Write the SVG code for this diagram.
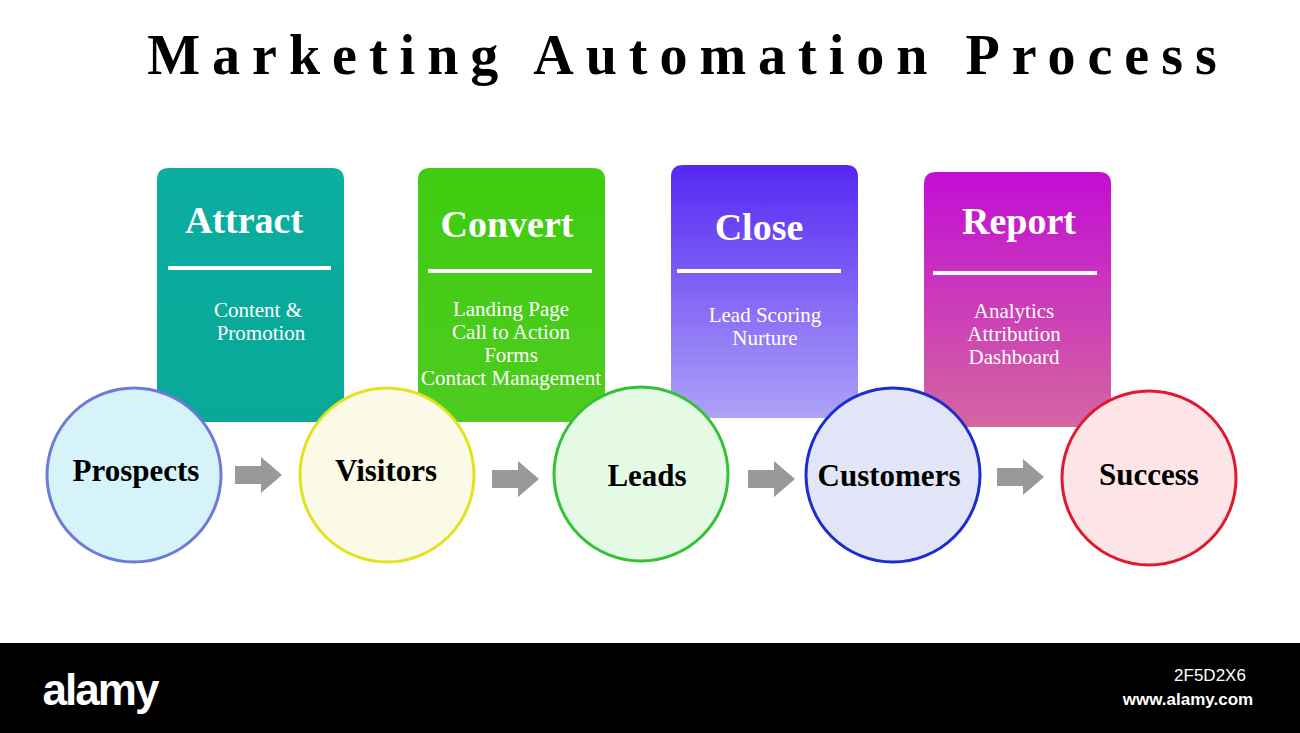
<svg xmlns="http://www.w3.org/2000/svg" width="1300" height="733" viewBox="0 0 1300 733">
<defs>
<linearGradient id="gT" x1="0" y1="0" x2="0" y2="1"><stop offset="0" stop-color="#0aaea0"/><stop offset="1" stop-color="#0aa898"/></linearGradient>
<linearGradient id="gG" x1="0" y1="0" x2="0" y2="1"><stop offset="0" stop-color="#3fcc10"/><stop offset="1" stop-color="#4ecc20"/></linearGradient>
<linearGradient id="gB" x1="0" y1="0" x2="0" y2="1"><stop offset="0" stop-color="#5528f2"/><stop offset="1" stop-color="#aea2f8"/></linearGradient>
<linearGradient id="gR" x1="0" y1="0" x2="0" y2="1"><stop offset="0" stop-color="#c20ed4"/><stop offset="1" stop-color="#d466a0"/></linearGradient>
<path id="arr" d="M0,-9 H26 V-18 L47,0 L26,18 V9 H0 Z" fill="#999"/>
</defs>
<style>
.h{font-family:"Liberation Serif",serif;font-weight:bold;font-size:38px;fill:#fff;text-anchor:middle}
.b{font-family:"Liberation Serif",serif;font-size:21px;fill:#fff;text-anchor:middle}
.c{font-family:"Liberation Serif",serif;font-weight:bold;font-size:31px;fill:#000;text-anchor:middle}
.ln{stroke:#fff;stroke-width:4}
circle{stroke-width:3}
</style>
<rect width="1300" height="733" fill="#fff"/>
<text x="688" y="74" font-family="Liberation Serif,serif" font-weight="bold" font-size="56" letter-spacing="12" text-anchor="middle">Marketing Automation Process</text>
<g id="attract"><path d="M157,422 V180 Q157,168 169,168 H332 Q344,168 344,180 V422 Z" fill="url(#gT)"/><text class="h" x="244" y="233">Attract</text><line class="ln" x1="168" y1="268" x2="331" y2="268"/><text class="b" x="258" y="317">Content &amp;</text><text class="b" x="261" y="340">Promotion</text></g>
<g id="convert"><path d="M418,422 V180 Q418,168 430,168 H593 Q605,168 605,180 V422 Z" fill="url(#gG)"/><text class="h" x="507" y="237">Convert</text><line class="ln" x1="428" y1="271" x2="592" y2="271"/><text class="b" x="511" y="316">Landing Page</text><text class="b" x="511" y="339">Call to Action</text><text class="b" x="511" y="362">Forms</text><text class="b" x="511" y="385">Contact Management</text></g>
<g id="close"><path d="M671,418 V177 Q671,165 683,165 H846 Q858,165 858,177 V418 Z" fill="url(#gB)"/><text class="h" x="759" y="240">Close</text><line class="ln" x1="677" y1="271" x2="841" y2="271"/><text class="b" x="765" y="322">Lead Scoring</text><text class="b" x="765" y="345">Nurture</text></g>
<g id="report"><path d="M924,427 V184 Q924,172 936,172 H1099 Q1111,172 1111,184 V427 Z" fill="url(#gR)"/><text class="h" x="1019" y="234">Report</text><line class="ln" x1="933" y1="273" x2="1097" y2="273"/><text class="b" x="1014" y="318">Analytics</text><text class="b" x="1014" y="341">Attribution</text><text class="b" x="1014" y="364">Dashboard</text></g>
<g id="connectors"><use href="#arr" x="235" y="475"/><use href="#arr" x="492" y="479"/><use href="#arr" x="748" y="479"/><use href="#arr" x="997" y="477"/></g>
<g id="prospects"><circle cx="134" cy="475" r="87" fill="#d6f3fa" stroke="#6f7ad8"/><text class="c" x="136" y="481">Prospects</text></g>
<g id="visitors"><circle cx="387" cy="475" r="87" fill="#fafae6" stroke="#e2e21e"/><text class="c" x="386" y="481">Visitors</text></g>
<g id="leads"><circle cx="641" cy="474" r="87" fill="#e4fae4" stroke="#33c233"/><text class="c" x="647" y="486">Leads</text></g>
<g id="customers"><circle cx="893" cy="475" r="87" fill="#e2e4f8" stroke="#1a2ed0"/><text class="c" x="889" y="486">Customers</text></g>
<g id="success"><circle cx="1149" cy="478" r="87" fill="#fde4e6" stroke="#e01830"/><text class="c" x="1149" y="485">Success</text></g>
<rect x="0" y="643" width="1300" height="90" fill="#000"/>
<text x="100" y="705" font-family="Liberation Sans,sans-serif" font-weight="bold" font-size="44" fill="#fff" text-anchor="middle" letter-spacing="-2">alamy</text>
<text x="1210" y="681" font-family="Liberation Sans,sans-serif" font-size="17" fill="#fff" text-anchor="middle">2F5D2X6</text>
<text x="1188" y="705" font-family="Liberation Sans,sans-serif" font-weight="bold" font-size="17" fill="#fff" text-anchor="middle">www.alamy.com</text>
</svg>
